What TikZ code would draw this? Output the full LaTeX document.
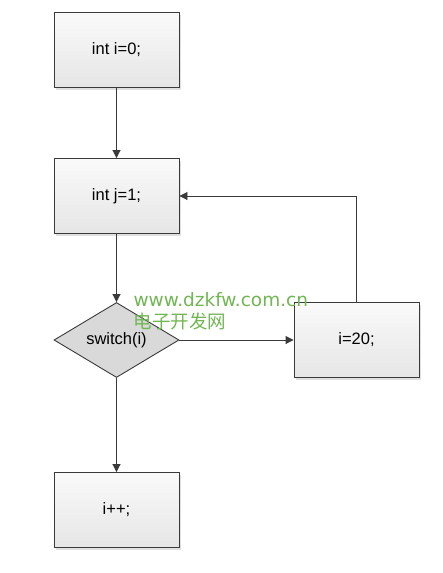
\documentclass[tikz,border=0pt]{standalone}
\usepackage{fontspec}
\setmainfont{Liberation Sans}
\newfontfamily\wmfont{DejaVu Sans}
\newfontfamily\cjkfont{Noto Sans CJK SC}
\usetikzlibrary{shapes.geometric,shadows,arrows.meta}
\definecolor{linegray}{RGB}{58,58,58}
\definecolor{wmgreen}{RGB}{112,182,82}
\tikzset{
  stepbox/.style={draw=linegray, rectangle, line width=0.9pt,
    minimum width=125pt, minimum height=75pt,
    top color=white!98!black, bottom color=white!90!black,
    drop shadow={shadow xshift=2pt, shadow yshift=-2pt, fill=black!12, opacity=1},
    font=\fontsize{16.5}{19}\selectfont},
  decision/.style={draw=linegray, diamond, line width=0.9pt, aspect=1.67,
    inner sep=0pt, minimum width=125pt, minimum height=75pt,
    fill=black!15, font=\fontsize{16.5}{19}\selectfont},
  flow/.style={draw=linegray, line width=0.9pt, -{Triangle[length=8pt,width=8pt]}},
  mark text/.style={anchor=base west, text=wmgreen}
}
\begin{document}
\begin{tikzpicture}[x=1pt,y=-1pt]
\useasboundingbox (0,0) rectangle (443,573);
\node[stepbox] (init) at (116.5,50) {int i=0;};
\node[stepbox] (inner) at (116.5,196) {int j=1;};
\node[decision] (sw) at (116.5,340) {switch(i)};
\node[stepbox] (set) at (356.5,340) {i=20;};
\node[stepbox] (inc) at (116.5,510) {i++;};
\draw[flow] (init) -- (inner);
\draw[flow] (inner) -- (sw);
\draw[flow] (sw) -- (set);
\draw[flow] (sw) -- (inc);
\draw[flow] (set.north) |- (inner.east);
% watermark
\node[mark text, font=\wmfont\fontsize{18.5}{21}\selectfont] (wmurl) at (130,306) {www.dzkfw.com.cn};
\node[mark text, font=\cjkfont\fontsize{18.5}{21}\selectfont] (wmname) at (130,328) {电子开发网};
\end{tikzpicture}
\end{document}
